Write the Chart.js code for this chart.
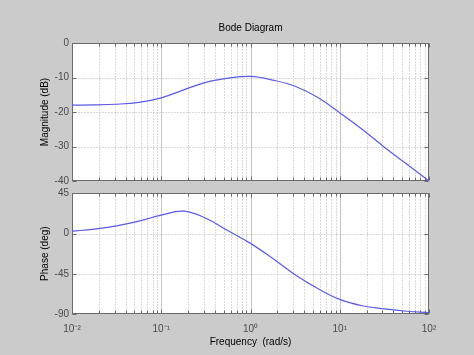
<!DOCTYPE html>
<html><head><meta charset="utf-8">
<script src="https://cdn.jsdelivr.net/npm/chart.js@4.4.1/dist/chart.umd.min.js"></script>
<style>
html,body{margin:0;padding:0;background:#cbcbcb;width:474px;height:355px;overflow:hidden}
canvas{position:absolute;left:0}
#c1{top:0}
#c2{top:180px}
</style></head><body>
<canvas id="c1" width="474" height="190"></canvas>
<canvas id="c2" width="474" height="175"></canvas>
<script>
// ---- data (quarter-decade samples) ----
const freq        = [0.01, 0.0178, 0.0316, 0.0562, 0.1, 0.178, 0.316, 0.562, 1, 1.78, 3.16, 5.62, 10, 17.8, 31.6, 56.2, 100];
const magnitudeDb = [-18.0, -17.95, -17.75, -17.2, -15.9, -13.6, -11.4, -10.2, -9.7, -10.75, -12.55, -15.75, -20.2, -25.0, -30.2, -35.1, -40.0];
const phaseDeg    = [2.6, 4.9, 8.6, 13.9, 20.6, 25.0, 17.1, 3.0, -11.0, -28.0, -46.0, -61.3, -73.7, -80.8, -84.3, -86.9, -88.3];

const xDecades      = [0.01, 0.1, 1, 10, 100];
const xDecadeLabels = ['10⁻²', '10⁻¹', '10⁰', '10¹', '10²'];
const xMinorFactors = [1, 2, 3, 4, 5, 6, 7, 8, 9];
const magTicks      = [-40, -30, -20, -10, 0];
const phaseTicks    = [-90, -45, 0, 45];

const titleText  = 'Bode Diagram';
const magLabel   = 'Magnitude (dB)';
const phaseLabel = 'Phase (deg)';
const xLabel     = 'Frequency  (rad/s)';

// ---- derived tick list for the log axis ----
const xTickValues = [];
xDecades.forEach((d, i) => {
  if (i === xDecades.length - 1) { xTickValues.push(d); return; }
  xMinorFactors.forEach(f => xTickValues.push(+(d * f).toPrecision(3)));
});

const FONT = "'Liberation Sans', Arial, Helvetica, sans-serif";
Chart.defaults.font.family = FONT;
Chart.defaults.font.size = 10;

const matlabAxes = {
  id: 'matlabAxes',
  beforeDraw(chart) {
    const { ctx, chartArea: a } = chart;
    ctx.save();
    ctx.fillStyle = '#ffffff';
    ctx.fillRect(a.left, a.top, a.right - a.left, a.bottom - a.top);
    ctx.restore();
  },
  beforeDatasetsDraw(chart) {
    const { ctx, chartArea: a, scales: { x, y } } = chart;
    const L = Math.round(a.left) + 0.5, R = Math.round(a.right) - 0.5;
    const T = Math.round(a.top) + 0.5, B = Math.round(a.bottom) - 0.5;
    ctx.save();
    ctx.lineWidth = 1;
    xTickValues.forEach(v => {
      const px = Math.round(x.getPixelForValue(v)) + 0.5;
      if (px <= L + 0.5 || px >= R - 0.5) return;
      const major = xDecades.includes(v);
      ctx.strokeStyle = major ? '#c6c6c6' : '#b4b4b4';
      ctx.setLineDash(major ? [] : [1, 2]);
      ctx.beginPath(); ctx.moveTo(px, T); ctx.lineTo(px, B); ctx.stroke();
    });
    ctx.strokeStyle = '#b4b4b4';
    ctx.setLineDash([1, 2]);
    y.ticks.forEach(t => {
      const py = Math.round(y.getPixelForValue(t.value)) + 0.5;
      if (py <= T + 0.5 || py >= B - 0.5) return;
      ctx.beginPath(); ctx.moveTo(L, py); ctx.lineTo(R, py); ctx.stroke();
    });
    ctx.setLineDash([]);
    ctx.strokeStyle = '#6a6a6a';
    xTickValues.forEach(v => {
      const px = Math.round(x.getPixelForValue(v)) + 0.5;
      const len = xDecades.includes(v) ? 4 : 3;
      ctx.beginPath();
      ctx.moveTo(px, B); ctx.lineTo(px, B - len);
      ctx.moveTo(px, T); ctx.lineTo(px, T + len);
      ctx.stroke();
    });
    y.ticks.forEach(t => {
      const py = Math.round(y.getPixelForValue(t.value)) + 0.5;
      ctx.beginPath();
      ctx.moveTo(L, py); ctx.lineTo(L + 4, py);
      ctx.moveTo(R, py); ctx.lineTo(R - 4, py);
      ctx.stroke();
    });
    ctx.strokeRect(L, T, R - L, B - T);
    ctx.restore();
  },
  afterDraw(chart, args, opts) {
    if (!opts.title) return;
    const { ctx, chartArea: a } = chart;
    ctx.save();
    ctx.fillStyle = '#000000';
    ctx.font = '10px ' + FONT;
    ctx.textAlign = 'center';
    ctx.textBaseline = 'middle';
    ctx.fillText(opts.title, (a.left + a.right) / 2, 28.5);
    ctx.restore();
  }
};

function makeChart(id, values, yTicks, opts) {
  return new Chart(document.getElementById(id), {
    type: 'line',
    data: {
      datasets: [{
        data: freq.map((f, i) => ({ x: f, y: values[i] })),
        borderColor: '#5a5ae8',
        borderWidth: 1.2,
        pointRadius: 0,
        fill: false,
        tension: 0.4
      }]
    },
    options: {
      responsive: false,
      animation: false,
      devicePixelRatio: 1,
      layout: { padding: { left: 0, right: 45, top: opts.padTop, bottom: 0 } },
      plugins: {
        legend: { display: false },
        tooltip: { enabled: false },
        title: { display: false },
        matlabAxes: { title: opts.title }
      },
      scales: {
        x: {
          type: 'logarithmic', position: 'bottom', min: 0.01, max: 100,
          grid: { display: false, drawTicks: false },
          border: { display: false },
          afterBuildTicks: s => { s.ticks = xTickValues.map(v => ({ value: v, major: xDecades.includes(v) })); },
          afterFit: s => { s.height = opts.xHeight; },
          ticks: {
            display: opts.xLabels, autoSkip: false, maxRotation: 0, padding: 9.5,
            color: '#4a4a4a', font: { size: 10, family: FONT },
            callback: v => { const i = xDecades.indexOf(+v); return i >= 0 ? xDecadeLabels[i] : ''; }
          },
          title: opts.xLabels ? {
            display: true, text: xLabel, color: '#000000',
            font: { size: 10, family: FONT, lineHeight: 1.2 }, padding: { top: 0, bottom: 6.5 }
          } : { display: false }
        },
        y: {
          type: 'linear', min: yTicks[0], max: yTicks[yTicks.length - 1],
          grid: { display: false, drawTicks: false },
          border: { display: false },
          afterBuildTicks: s => { s.ticks = yTicks.map(v => ({ value: v })); },
          afterFit: s => { s.width = 72; },
          ticks: { padding: 3, color: '#4a4a4a', font: { size: 10, family: FONT } },
          title: {
            display: true, text: opts.yLabel, color: '#000000',
            font: { size: 10, family: FONT, lineHeight: 1.2 }, padding: { top: 39, bottom: 0 }
          }
        }
      }
    },
    plugins: [matlabAxes]
  });
}

makeChart('c1', magnitudeDb, magTicks, { padTop: 43, xHeight: 8, xLabels: false, title: titleText, yLabel: magLabel });
makeChart('c2', phaseDeg, phaseTicks, { padTop: 13.3, xHeight: 41, xLabels: true, title: null, yLabel: phaseLabel });
</script>
</body></html>
